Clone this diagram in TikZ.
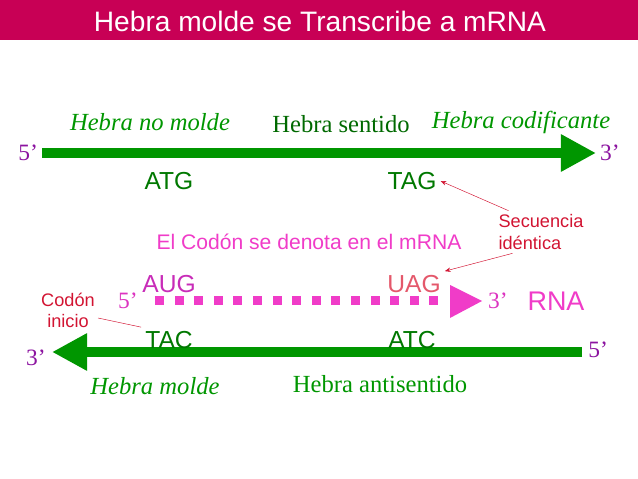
\documentclass[tikz,border=0pt]{standalone}
\usepackage{fontspec}
\setmainfont{Liberation Serif}
\setsansfont{Liberation Sans}
\usetikzlibrary{arrows.meta,positioning}
\definecolor{titlered}{RGB}{200,0,85}
\definecolor{strand}{RGB}{0,150,0}
\definecolor{rnapink}{RGB}{240,60,200}
\definecolor{endpurple}{RGB}{140,20,160}
\definecolor{notered}{RGB}{210,20,50}
\tikzset{
  serif/.style={font=\fontsize{21}{24}\selectfont\itshape, text=strand},
  codon/.style={font=\sffamily\fontsize{21}{24}\selectfont},
  ends/.style={font=\fontsize{20}{23}\selectfont, text=endpurple},
  note/.style={font=\sffamily\fontsize{15.5}{18}\selectfont, text=notered, align=left},
  strandarrow/.style={strand, line width=9pt, -{Triangle[length=30pt,width=30pt]}},
  pointer/.style={notered, thin, -{Stealth[length=5pt]}}
}
\begin{document}
\begin{tikzpicture}[x=0.03cm,y=-0.03cm]
    \useasboundingbox (0,0) rectangle (638,479);
    % title bar
    \fill[titlered] (0,0) rectangle (638,40);
    \node[font=\sffamily\fontsize{24}{28}\selectfont, text=white] (title) at (320,21) {Hebra molde se Transcribe a mRNA};

    % coding strand
    \coordinate (top5) at (42,153);
    \coordinate (top3) at (596,153);
    \draw[strandarrow] (top5) -- (top3);
    \node[ends, left=0pt of top5] (t5) {5’};
    \node[ends, right=0pt of top3] (t3) {3’};
    \node[serif] (nomolde) at (150,122) {Hebra no molde};
    \node[serif, text=strand!70!black, font=\fontsize{21}{24}\selectfont] (sentido) at (341,124) {Hebra sentido};
    \node[serif] (codif) at (521,122) {Hebra codificante};
    \node[codon, text=strand!80!black] (atg) at (169,181) {ATG};
    \node[codon, text=strand!80!black] (tag) at (412,181) {TAG};

    % mRNA
    \node[codon, text=rnapink, font=\sffamily\fontsize{18}{21}\selectfont] (denota) at (309,242) {El Codón se denota en el mRNA};
    \foreach \i in {0,...,14}
        \fill[rnapink] (155+\i*19.6,296) rectangle ++(9,9);
    \fill[rnapink] (450,285) -- (482,301) -- (450,318) -- cycle;
    \node[ends, text=rnapink!80!endpurple] (r5) at (128,301) {5’};
    \node[ends, text=rnapink!80!endpurple] (r3) at (498,301) {3’};
    \node[codon, text=rnapink, font=\sffamily\fontsize{23}{26}\selectfont] (rna) at (556,301) {RNA};
    \node[codon, text=rnapink!60!endpurple] (aug) at (169,284) {AUG};
    \node[codon, text=notered!60!pink] (uag) at (414,284) {UAG};

    % template strand
    \coordinate (bot5) at (582,352);
    \coordinate (bot3) at (52,352);
    \draw[strandarrow] (bot5) -- (bot3);
    \node[ends, right=2pt of bot5, yshift=2pt] (b5) {5’};
    \node[ends] (b3) at (36,358) {3’};
    \node[codon, text=strand!80!black] (tac) at (169,340) {TAC};
    \node[codon, text=strand!80!black] (atc) at (412,340) {ATC};
    \node[serif] (molde) at (155,386) {Hebra molde};
    \node[serif, font=\fontsize{21}{24}\selectfont] (anti) at (380,384) {Hebra antisentido};

    % notes
    \node[note] (secu) at (541,232) {Secuencia\\idéntica};
    \draw[pointer] (secu.north west) ++(14,0) -- (tag.east);
    \draw[pointer] (secu.south west) ++(18,0) -- (uag.north east);
    \node[note, align=center] (inicio) at (68,310) {Codón\\inicio};
    \coordinate (inicioend) at (98,318);
    \draw[notered, thin] (inicioend) -- (tac.north west);
\end{tikzpicture}
\end{document}
